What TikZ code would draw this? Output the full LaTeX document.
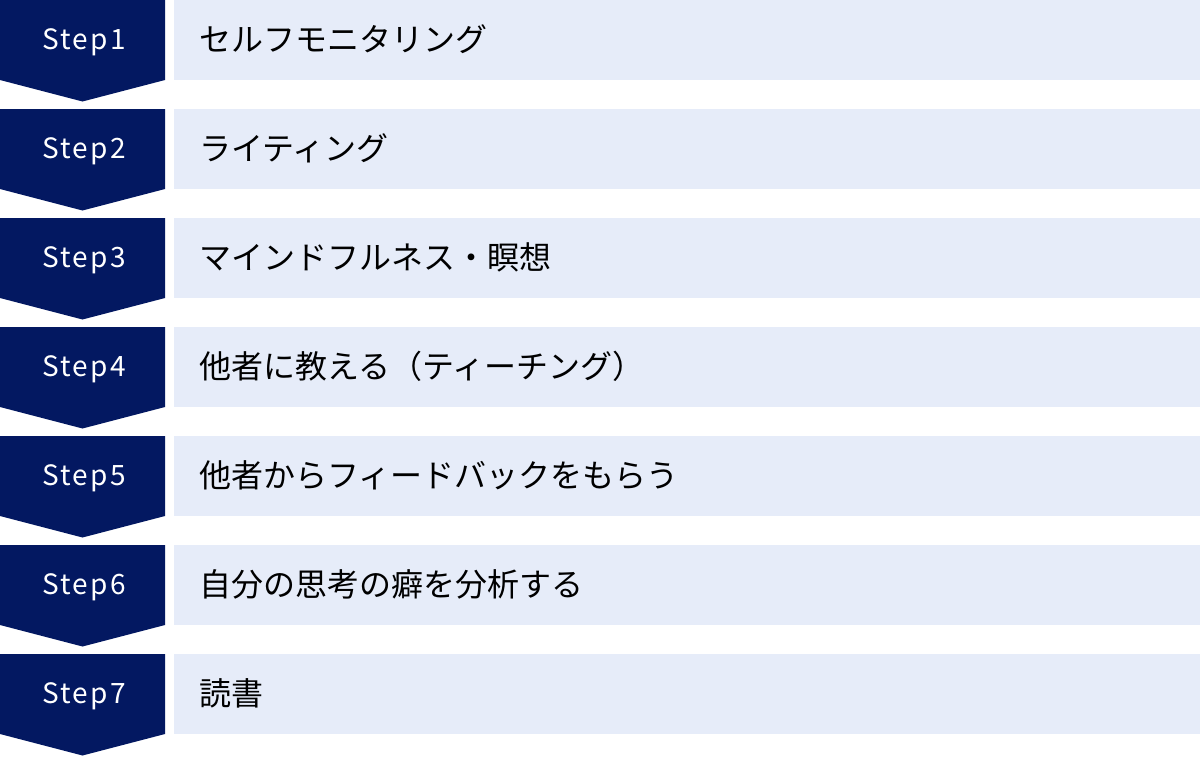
\documentclass[tikz,border=0pt]{standalone}
\usepackage{fontspec}
\setmainfont{Noto Sans}
\newfontfamily\jp{Noto Sans CJK JP}
\newfontfamily\stepfont[LetterSpace=8]{Noto Sans CJK JP}
\definecolor{navy}{HTML}{031861}
\definecolor{pale}{HTML}{E6ECF9}
\begin{document}
\begin{tikzpicture}[x=1pt,y=-1pt,
  stepbox/.style={fill=navy,draw=none},
  itembox/.style={fill=pale,draw=none},
  steplabel/.style={text=white,font=\stepfont\fontsize{28}{32}\selectfont,anchor=center},
  itemlabel/.style={text=black,font=\jp\fontsize{32}{38}\selectfont,anchor=west}]
\useasboundingbox (0,0) rectangle (1200,756);
\foreach \i/\t in {1/セルフモニタリング,2/ライティング,3/マインドフルネス・瞑想,4/他者に教える（ティーチング）,5/他者からフィードバックをもらう,6/自分の思考の癖を分析する,7/読書}{
  \pgfmathsetmacro{\yy}{(\i-1)*109}
  \fill[stepbox] (0,\yy) -- (165,\yy) -- (165,\yy+80) -- (82.5,\yy+101.5) -- (0,\yy+80) -- cycle;
  \node[steplabel] (s\i) at (84,\yy+42) {Step\i};
  \fill[itembox] (174,\yy) rectangle (1200,\yy+80);
  \node[itemlabel] (t\i) at (196,\yy+39) {\t};
}
\end{tikzpicture}
\end{document}
